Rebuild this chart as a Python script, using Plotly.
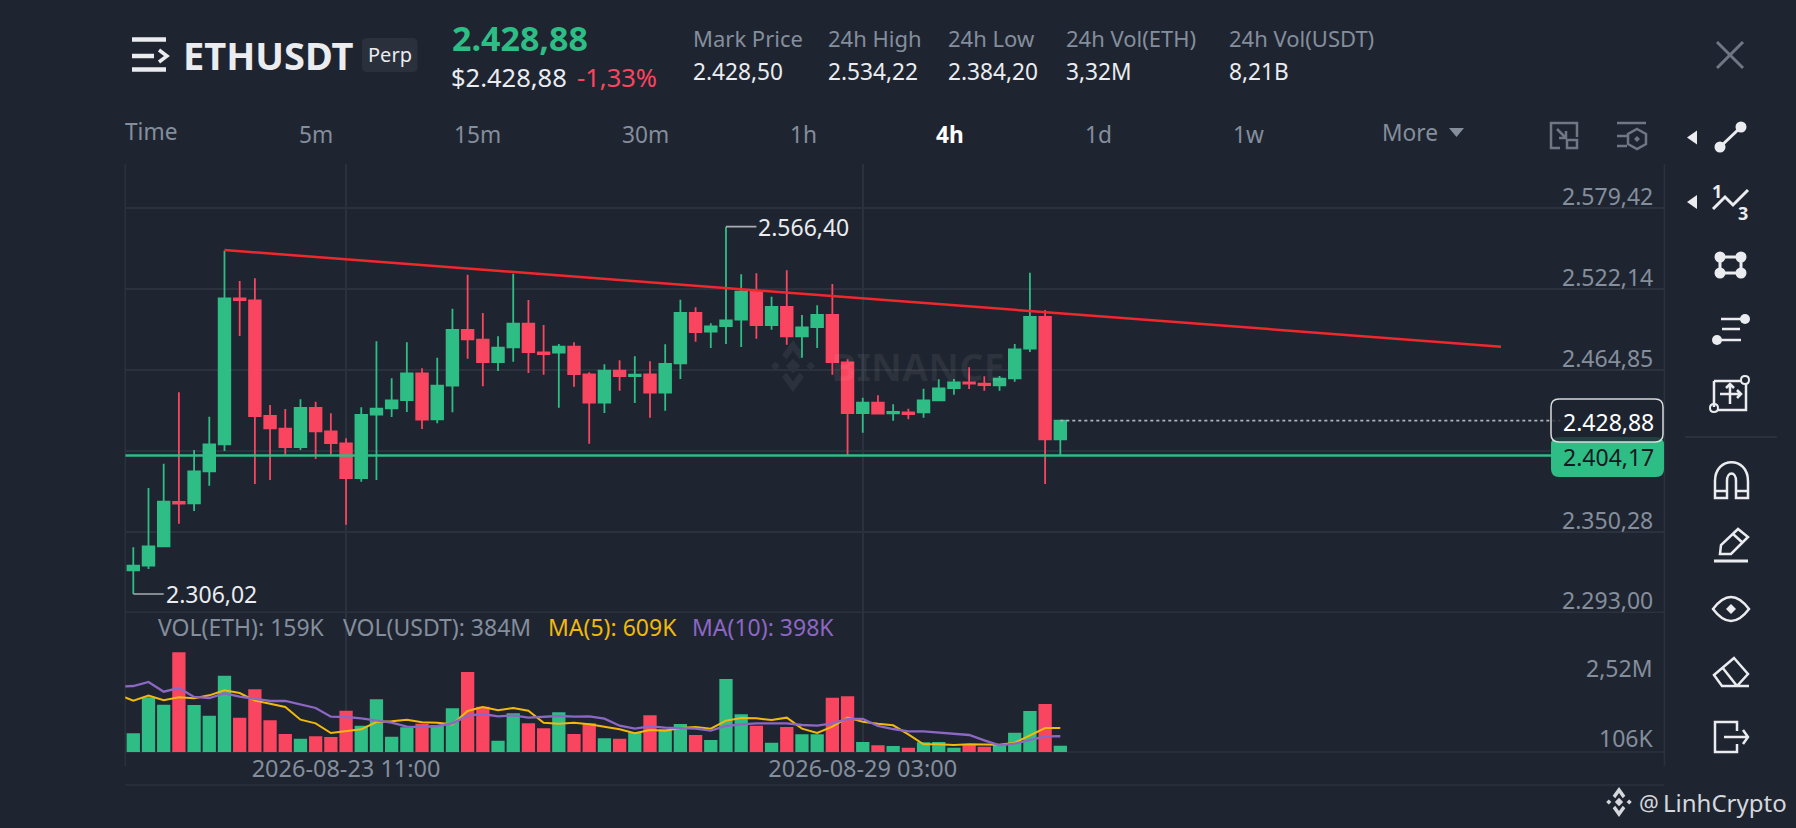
import re
import pandas as pd
import plotly.graph_objects as go

W = 1796
H = 828
BG = "#1f2530"
GRID = "#2b323e"
GREEN = "#2ebd85"
RED = "#f9455f"
GRAY = "#848e9c"
WHITE = "#eaecef"
FONT = "Noto Sans"

# 4h candles
opens = [2322.74, 2326.05, 2339.76, 2371.19, 2370.24, 2392.93, 2412.07, 2515.57, 2514.15, 2432.15, 2423.17,
         2410.18, 2437.83, 2421.28, 2412.78, 2388.20, 2433.10, 2437.59, 2443.50, 2462.40, 2429.79, 2453.66,
         2493.12, 2486.27, 2470.44, 2480.83, 2497.61, 2477.29, 2477.05, 2481.31, 2461.69, 2441.61, 2464.29,
         2460.51, 2461.69, 2448.70, 2469.49, 2505.17, 2491.94, 2495.96, 2500.45, 2520.30, 2496.67, 2509.43,
         2488.64, 2495.25, 2503.76, 2470.20, 2434.28, 2441.61, 2434.04, 2434.75, 2434.75, 2443.26, 2452.00,
         2456.02, 2455.08, 2453.89, 2458.86, 2479.89, 2502.34, 2415.61]
highs = [2339.05, 2381.11, 2398.36, 2448.93, 2408.05, 2431.68, 2549.36, 2527.86, 2529.75, 2439.95, 2437.12,
         2443.97, 2442.32, 2434.04, 2416.32, 2438.30, 2485.09, 2458.86, 2484.38, 2465.95, 2473.51, 2508.25,
         2532.35, 2505.17, 2488.64, 2533.06, 2514.39, 2496.67, 2483.20, 2484.38, 2463.11, 2468.78, 2471.62,
         2474.45, 2470.91, 2482.96, 2514.63, 2509.19, 2497.85, 2566.40, 2532.59, 2533.29, 2516.75, 2535.42,
         2503.76, 2510.61, 2525.73, 2472.33, 2445.15, 2446.81, 2440.43, 2437.35, 2451.53, 2458.15, 2458.38,
         2466.66, 2460.27, 2460.51, 2483.20, 2533.77, 2507.30, 2428.88]
lows = [2306.02, 2323.69, 2339.76, 2355.83, 2364.81, 2382.77, 2407.34, 2488.87, 2383.95, 2386.78, 2404.74,
        2408.05, 2401.67, 2404.74, 2355.12, 2385.60, 2386.78, 2431.44, 2434.99, 2422.94, 2426.96, 2434.75,
        2472.80, 2453.19, 2464.06, 2470.67, 2462.64, 2461.46, 2438.06, 2452.95, 2412.54, 2434.28, 2450.11,
        2441.37, 2430.97, 2435.93, 2458.38, 2484.85, 2480.36, 2483.20, 2481.07, 2486.98, 2493.36, 2482.72,
        2473.51, 2480.36, 2461.46, 2404.51, 2420.34, 2433.34, 2428.85, 2429.79, 2430.97, 2443.26, 2447.28,
        2451.30, 2450.11, 2450.11, 2456.49, 2477.53, 2383.95, 2404.51]
closes = [2326.05, 2339.76, 2371.42, 2370.00, 2392.93, 2412.07, 2515.57, 2514.39, 2432.15, 2423.41, 2410.18,
          2437.83, 2421.28, 2413.01, 2388.20, 2432.86, 2437.35, 2443.26, 2462.40, 2429.56, 2453.66, 2493.12,
          2486.51, 2470.44, 2480.60, 2497.61, 2477.53, 2476.11, 2481.31, 2461.93, 2441.61, 2464.29, 2460.51,
          2461.46, 2448.70, 2469.02, 2505.17, 2491.70, 2495.72, 2499.97, 2520.30, 2496.67, 2509.43, 2488.64,
          2495.01, 2503.76, 2470.44, 2434.28, 2441.61, 2433.81, 2434.99, 2433.57, 2443.26, 2451.77, 2456.02,
          2455.08, 2454.13, 2458.62, 2479.42, 2502.34, 2415.61, 2428.88]
# volume in thousands of ETH
volumes = [472, 1382, 1196, 2520, 1188, 918, 1929, 868, 1584, 800, 455, 337, 396, 379, 1045, 665, 1331, 387, 623,
           716, 682, 1104, 2022, 1146, 286, 977, 724, 598, 1002, 455, 724, 345, 337, 497, 927, 573, 708, 430, 303,
           1845, 952, 665, 236, 632, 446, 446, 1373, 1407, 253, 168, 152, 106, 244, 253, 110, 185, 135, 194, 489,
           1036, 1213, 159]
# both MA lists start one bar before the first candle
ma5 = [1449, 1297, 1424, 1306, 1382, 1356, 1432, 1558, 1491, 1297, 1221, 1137, 817, 724, 480, 531, 573, 758, 775,
       817, 750, 741, 699, 1036, 1137, 1053, 1112, 1045, 741, 716, 741, 699, 640, 573, 472, 556, 539, 607, 632,
       590, 792, 859, 851, 809, 868, 590, 480, 640, 868, 767, 716, 674, 446, 194, 194, 177, 194, 194, 185, 236,
       421, 607, 609]
ma10 = [1651, 1668, 1769, 1525, 1617, 1390, 1365, 1483, 1398, 1348, 1289, 1289, 1196, 1112, 893, 885, 851, 792,
        741, 640, 632, 657, 724, 918, 960, 901, 927, 868, 893, 910, 893, 901, 842, 665, 590, 649, 615, 598, 590,
        539, 657, 699, 724, 724, 724, 682, 665, 724, 834, 834, 657, 581, 522, 522, 489, 455, 430, 295, 168, 211,
        295, 396, 398]

price_ticks = [2579.42, 2522.14, 2464.85, 2407.57, 2350.28, 2293.00]
price_labels = ["2.579,42", "2.522,14", "2.464,85", "", "2.350,28", "2.293,00"]
vol_ticks = [2520, 106]
vol_labels = ["2,52M", "106K"]
date_ticks = ["2026-08-23 11:00", "2026-08-29 03:00"]
trend_index = [6, 90]
trend_price = [2549.8, 2481.3]
support = 2404.17
last_price = 2428.88

header = [("Mark Price", "2.428,50", 692), ("24h High", "2.534,22", 827), ("24h Low", "2.384,20", 947),
          ("24h Vol(ETH)", "3,32M", 1065), ("24h Vol(USDT)", "8,21B", 1228)]
tabs = [("5m", 316), ("15m", 477), ("30m", 645), ("1h", 803), ("1d", 1098), ("1w", 1248)]

# pixel layout of the panes
LEFT, RIGHT = 125.3, 1664.4
PRICE_TOP, PRICE_BOT, VOL_BOT = 164, 612.3, 752
PX_PER_PRICE = 1.4106
PX_PER_K = 1 / 25.27
STEP = 15.197
FIRST = 133.3

bar = pd.Timedelta(hours=4)
start = pd.Timestamp("2026-08-21 03:00")
dates = [start + bar * i for i in range(len(closes))]
ma_dates = [start + bar * (i - 1) for i in range(len(ma5))]


def at(i):
    return start + bar * i


def px(x):
    return x / W


def py(y):
    return 1 - y / H


def path(s):
    # path string in page pixels -> paper coordinates
    out = []
    nums = []
    for tok in re.findall(r"[MLQCZ]|-?[\d.]+", s):
        if tok.isalpha():
            out.append(tok)
        else:
            nums.append(float(tok))
            if len(nums) == 2:
                out.append("%.5f,%.5f" % (px(nums[0]), py(nums[1])))
                nums = []
    return " ".join(out)


shapes = []
annotations = []


def stroke(s, color=WHITE, width=2.5, fill=None, layer="above"):
    shapes.append(dict(type="path", path=path(s), xref="paper", yref="paper", layer=layer,
                       line=dict(color=color, width=width), fillcolor=fill))


def dot(x, y, r, color=WHITE):
    shapes.append(dict(type="circle", xref="paper", yref="paper", x0=px(x - r), x1=px(x + r),
                       y0=py(y + r), y1=py(y - r), fillcolor=color, line=dict(width=0), layer="above"))


def box(x0, y0, x1, y1, r, fill, line=None):
    s = (f"M {x0 + r} {y0} L {x1 - r} {y0} Q {x1} {y0} {x1} {y0 + r} L {x1} {y1 - r} Q {x1} {y1} {x1 - r} {y1} "
         f"L {x0 + r} {y1} Q {x0} {y1} {x0} {y1 - r} L {x0} {y0 + r} Q {x0} {y0} {x0 + r} {y0} Z")
    stroke(s, color=line or "rgba(0,0,0,0)", width=1.5 if line else 0, fill=fill)


def txt(x, y, s, size=22.7, color=WHITE, anchor="left", bold=False):
    annotations.append(dict(x=px(x), y=py(y), xref="paper", yref="paper", text=("<b>%s</b>" % s) if bold else s,
                            showarrow=False, xanchor=anchor, yanchor="middle", borderpad=0,
                            font=dict(family=FONT, size=size, color=color)))


def diamond(cx, cy, r, color, layer="above"):
    stroke(f"M {cx - r} {cy} L {cx} {cy - r} L {cx + r} {cy} L {cx} {cy + r} Z", color=color, width=0, fill=color,
           layer=layer)


def binance_logo(cx, cy, s, color, layer="above"):
    diamond(cx, cy, 0.28 * s, color, layer)
    diamond(cx - 0.68 * s, cy, 0.17 * s, color, layer)
    diamond(cx + 0.68 * s, cy, 0.17 * s, color, layer)
    for sign in (-1, 1):
        stroke(f"M {cx - 0.42 * s} {cy + sign * 0.42 * s} L {cx} {cy + sign * s} L {cx + 0.42 * s} {cy + sign * 0.42 * s} "
               f"L {cx + 0.25 * s} {cy + sign * 0.25 * s} L {cx} {cy + sign * 0.6 * s} "
               f"L {cx - 0.25 * s} {cy + sign * 0.25 * s} Z", color=color, width=0, fill=color, layer=layer)


fig = go.Figure()

fig.add_trace(go.Candlestick(x=dates, open=opens, high=highs, low=lows, close=closes, xaxis="x", yaxis="y",
                             whiskerwidth=0,
                             increasing=dict(line=dict(color=GREEN, width=1.8), fillcolor=GREEN),
                             decreasing=dict(line=dict(color=RED, width=1.8), fillcolor=RED)))

# drawn lines on the price pane
fig.add_trace(go.Scatter(x=[at(i) for i in trend_index], y=trend_price, mode="lines", xaxis="x", yaxis="y",
                         line=dict(color="#f0282d", width=2.5)))
fig.add_trace(go.Scatter(x=[at(-0.53), at(93.9)], y=[support, support], mode="lines", xaxis="x", yaxis="y",
                         line=dict(color=GREEN, width=2.4)))
fig.add_trace(go.Scatter(x=[at(61), at(93.9)], y=[last_price, last_price], mode="lines", xaxis="x", yaxis="y",
                         line=dict(color="#aeb4bc", width=1.7, dash="3px,3px")))

# high / low callouts
low_i = lows.index(min(lows))
high_i = highs.index(max(highs))
for i, v, s in [(low_i, lows[low_i], "2.306,02"), (high_i, highs[high_i], "2.566,40")]:
    fig.add_trace(go.Scatter(x=[dates[i], at(i + 2.0)], y=[v, v], mode="lines", xaxis="x", yaxis="y",
                             line=dict(color="#a9adb3", width=1.6)))
    annotations.append(dict(x=at(i + 2.0), y=v, xref="x", yref="y", text=s, showarrow=False, xanchor="left",
                            yanchor="middle", font=dict(family=FONT, size=23, color=WHITE)))

fig.add_trace(go.Bar(x=dates, y=volumes, xaxis="x2", yaxis="y2", width=bar.total_seconds() * 1000 * 0.875,
                     marker=dict(color=[GREEN if c >= o else RED for o, c in zip(opens, closes)], line=dict(width=0))))
fig.add_trace(go.Scatter(x=ma_dates, y=ma5, mode="lines", xaxis="x2", yaxis="y2", line=dict(color="#f0b90b", width=2)))
fig.add_trace(go.Scatter(x=ma_dates, y=ma10, mode="lines", xaxis="x2", yaxis="y2", line=dict(color="#8d67c4", width=2.3)))

for v, s in zip(price_ticks, price_labels):
    if s:
        annotations.append(dict(x=px(1655), y=v, xref="paper", yref="y", text=s, showarrow=False, xanchor="right",
                                yanchor="middle", yshift=12, font=dict(family=FONT, size=23, color=GRAY)))
for v, s, shift in zip(vol_ticks, vol_labels, (-16, 10)):
    annotations.append(dict(x=px(1655), y=v, xref="paper", yref="y2", text=s, showarrow=False, xanchor="right",
                            yanchor="middle", yshift=shift, font=dict(family=FONT, size=23, color=GRAY)))

# frame lines
for s in [f"M {LEFT} {PRICE_TOP} L {LEFT} 766", f"M {RIGHT} {PRICE_TOP} L {RIGHT} 766",
          f"M {LEFT} 785 L {RIGHT} 785", f"M {LEFT} {PRICE_BOT} L {RIGHT} {PRICE_BOT}", f"M {LEFT} {VOL_BOT} L {RIGHT} {VOL_BOT}"]:
    stroke(s, color=GRID, width=1.5, layer="below")

# watermark
binance_logo(793, 366, 26, "#2b323d", layer="below")
txt(830, 366, "BINANCE", size=38, color="rgba(255,255,255,0.06)", bold=True)

# price tags on the right
box(1551, 437, 1664, 477, 8, GREEN)
box(1551, 399, 1663, 442, 8, "rgba(31,37,48,0.82)", line="#d8dadd")
txt(1655, 421.7, "2.428,88", size=23, color="#ffffff", anchor="right")
txt(1655, 457, "2.404,17", size=23, color="#14191f", anchor="right")

# header
stroke("M 132 39.5 L 166 39.5", width=4.5)
stroke("M 132 56 L 154 56", width=4.5)
stroke("M 159 50 L 167 56 L 159 62", width=3.5)
stroke("M 132 69.5 L 166 69.5", width=4.5)
txt(182, 55, "ETHUSDT", size=38, bold=True)
box(362, 38, 417.5, 72, 5, "#2a303c")
txt(389.7, 55, "Perp", size=20, anchor="center")
txt(451, 38, "2.428,88", size=34, color=GREEN, bold=True)
txt(450, 77, "$2.428,88", size=25.5, color=WHITE)
txt(576, 77, "-1,33%", size=25.5, color=RED)
for name, val, x in header:
    txt(x, 38, name, size=22, color=GRAY)
    txt(x, 71, val)
stroke("M 1717 42 L 1743 68", color="#6f7684", width=3)
stroke("M 1743 42 L 1717 68", color="#6f7684", width=3)

# tabs
txt(124, 131, "Time", color=GRAY)
for name, x in tabs:
    txt(x, 134, name, color=GRAY, anchor="center")
txt(950, 134, "4h", color="#ffffff", anchor="center", bold=True)
txt(1381, 132, "More", color=GRAY)
stroke("M 1449 128 L 1464 128 L 1456.5 137 Z", color=GRAY, width=0, fill=GRAY)

ICON = "#6f7684"
stroke("M 1560 148 L 1551 148 L 1551 123 L 1577 123 L 1577 137", color=ICON)
stroke("M 1567 140 L 1577 140 L 1577 148 L 1567 148 Z", color=ICON)
stroke("M 1557 129 L 1566 138 M 1566 131 L 1566 138 L 1559 138", color=ICON)
stroke("M 1617 123 L 1646 123", color=ICON)
stroke("M 1617 136 L 1627 136 M 1617 146 L 1627 146", color=ICON)
stroke("M 1637 129 L 1646 134 L 1646 144 L 1637 149 L 1628 144 L 1628 134 Z", color=ICON)
diamond(1637, 139, 3, ICON)

# drawing toolbar
for y in (137.5, 202):
    stroke(f"M 1697 {y - 7} L 1697 {y + 7} L 1687 {y} Z", width=0, fill=WHITE)
dot(1741, 127, 5.5)
dot(1720, 147, 5.5)
stroke("M 1741 127 L 1720 147", width=3)
stroke("M 1713 209 L 1725 197 L 1733 205 L 1748 190", width=3)
txt(1717, 191, "1", size=18, anchor="center", bold=True)
txt(1743, 213, "3", size=18, anchor="center", bold=True)
for x in (1720, 1741):
    for y in (257, 273):
        dot(x, y, 5.5)
stroke("M 1720 257 L 1741 257 L 1741 273 L 1720 273 Z", width=3)
dot(1745, 319, 5)
dot(1717, 340, 5)
stroke("M 1721 319 L 1745 319 M 1722 329 L 1740 329 M 1717 340 L 1741 340")
stroke("M 1714 381 L 1743 381 M 1746 384 L 1746 410 L 1717 410 M 1714 407 L 1714 381")
dot(1745, 380, 3.5, BG)
stroke("M 1745 376 Q 1749 376 1749 380 Q 1749 384 1745 384 Q 1741 384 1741 380 Q 1741 376 1745 376 Z", width=2)
stroke("M 1714 404 Q 1718 404 1718 408 Q 1718 412 1714 412 Q 1710 412 1710 408 Q 1710 404 1714 404 Z", width=2)
stroke("M 1730 384 L 1730 404 M 1720 394 L 1741 394 M 1726 388 L 1730 384 L 1734 388 M 1737 390 L 1741 394 L 1737 398")
stroke("M 1685 437 L 1777 437", color="#2b323e", width=2)
stroke("M 1715 498 L 1715 481 C 1715 456 1748 456 1748 481 L 1748 498 L 1736 498 L 1736 481 C 1736 471 1727 471 1727 481 "
       "L 1727 498 Z M 1715 491 L 1727 491 M 1736 491 L 1748 491")
stroke("M 1720 554 L 1721 545 L 1738 529 L 1748 537 L 1731 554 Z M 1733 534 L 1743 543")
stroke("M 1714 561 L 1748 561", width=3)
stroke("M 1713 609 Q 1722 597 1731 597 Q 1740 597 1749 609 Q 1740 621 1731 621 Q 1722 621 1713 609 Z")
diamond(1731, 609, 5, WHITE)
stroke("M 1734 658 L 1748 674 L 1737 686 L 1722 686 L 1714 675 Z M 1722 667 L 1737 686 M 1737 686 L 1749 686")
stroke("M 1737 731 L 1737 722 L 1715 722 L 1715 752 L 1737 752 L 1737 744")
stroke("M 1724 737 L 1748 737 M 1743 730 L 1748 737 L 1743 744")

# volume legend
txt(157, 627, "VOL(ETH): 159K", size=23, color=GRAY)
txt(342, 627, "VOL(USDT): 384M", size=23, color=GRAY)
txt(547, 627, "MA(5): 609K", size=23, color="#f0b90b")
txt(691, 627, "MA(10): 398K", size=23, color="#8d67c4")

# credit bottom right
binance_logo(1619, 802, 15, "#d5d8dd")
txt(1638, 802, "@", size=22, color="#d5d8dd")
txt(1662, 802, "LinhCrypto", size=24, color="#d5d8dd")

x_range = [at((LEFT - FIRST) / STEP), at((RIGHT - FIRST) / STEP)]
fig.update_layout(
    width=W, height=H, autosize=False, showlegend=False, paper_bgcolor=BG, plot_bgcolor=BG,
    margin=dict(l=0, r=0, t=0, b=0), boxgap=0.235, boxgroupgap=0, hovermode=False,
    shapes=shapes, annotations=annotations,
    xaxis=dict(domain=[px(LEFT), px(RIGHT)], range=x_range, anchor="y", type="date", rangeslider=dict(visible=False),
               tickvals=date_ticks, showticklabels=False, showgrid=True, gridcolor=GRID, gridwidth=1.5, ticks="",
               zeroline=False),
    yaxis=dict(domain=[py(PRICE_BOT), py(PRICE_TOP)], anchor="x", side="right",
               range=[2293, 2293 + (PRICE_BOT - PRICE_TOP) / PX_PER_PRICE], tickvals=price_ticks, showticklabels=False,
               showgrid=True, gridcolor=GRID, gridwidth=1.5, ticks="", zeroline=False),
    xaxis2=dict(domain=[px(LEFT), px(RIGHT)], range=x_range, anchor="y2", type="date", tickvals=date_ticks,
                ticktext=date_ticks, tickfont=dict(family=FONT, size=23.5, color=GRAY), showgrid=True, gridcolor=GRID,
                gridwidth=1.5, ticks="", zeroline=False, tickangle=0, ticklabelstandoff=0),
    yaxis2=dict(domain=[py(VOL_BOT), py(PRICE_BOT)], anchor="x2", side="right",
                range=[0, (VOL_BOT - PRICE_BOT) / PX_PER_K], showticklabels=False, showgrid=False, ticks="", zeroline=False),
)

fig.write_html("out.html", config=dict(displayModeBar=False),
               post_script="document.body.style.margin='0';document.body.style.background='%s';" % BG)
